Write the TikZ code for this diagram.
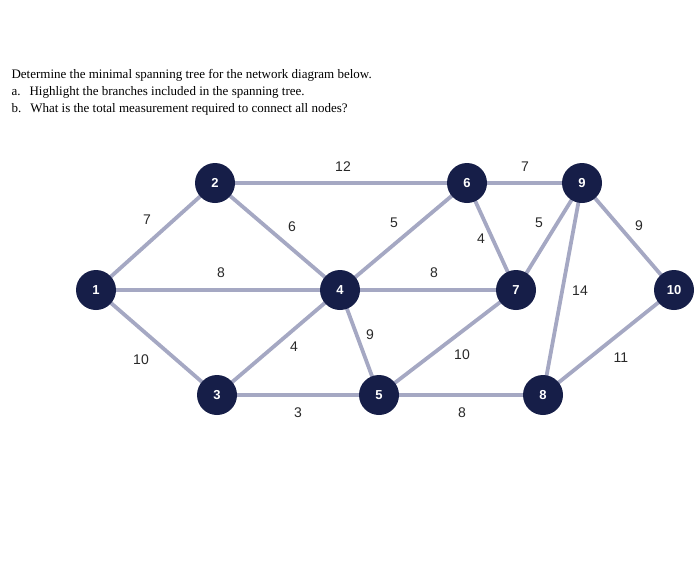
\documentclass[tikz,border=0pt]{standalone}
\usepackage{fontspec}
\setmainfont{Liberation Serif}
\newfontfamily\lab{Liberation Sans}
\begin{document}
\begin{tikzpicture}[x=1pt,y=-1pt,
  nd/.style={circle,fill={rgb,255:red,22;green,30;blue,72},minimum size=40pt,inner sep=0pt,text=white,font=\lab\bfseries\fontsize{13}{13}\selectfont},
  ed/.style={draw={rgb,255:red,165;green,168;blue,195},line width=3.8pt},
  wl/.style={font=\lab\fontsize{14}{14}\selectfont,text={rgb,255:red,40;green,40;blue,40}},
  hd/.style={anchor=west,font=\fontsize{13}{15}\selectfont}]
\useasboundingbox (0,0) rectangle (700,565);
\node[hd] (t1) at (8,75) {Determine the minimal spanning tree for the network diagram below.};
\node[hd] (t2) at (8,92) {a.\hspace{9pt}Highlight the branches included in the spanning tree.};
\node[hd] (t3) at (8,109) {b.\hspace{9pt}What is the total measurement required to connect all nodes?};
\coordinate (p1) at (96,290); \coordinate (p2) at (215,183); \coordinate (p3) at (217,395);
\coordinate (p4) at (340,290); \coordinate (p5) at (379,395); \coordinate (p6) at (467,183);
\coordinate (p7) at (516,290); \coordinate (p8) at (543,395); \coordinate (p9) at (582,183);
\coordinate (p10) at (674,290);
\foreach \a/\b in {p1/p2,p1/p4,p1/p3,p2/p6,p2/p4,p3/p4,p3/p5,p4/p5,p4/p6,p4/p7,p6/p7,p6/p9,p7/p9,p7/p5,p5/p8,p9/p8,p9/p10,p8/p10}
  \draw[ed] (\a) -- (\b);
\node[nd] (n1) at (p1) {1};
\node[nd] (n2) at (p2) {2};
\node[nd] (n3) at (p3) {3};
\node[nd] (n4) at (p4) {4};
\node[nd] (n5) at (p5) {5};
\node[nd] (n6) at (p6) {6};
\node[nd] (n7) at (p7) {7};
\node[nd] (n8) at (p8) {8};
\node[nd] (n9) at (p9) {9};
\node[nd] (n10) at (p10) {10};
\node[wl] (w1) at (147,220) {7};
\node[wl] (w2) at (292,227) {6};
\node[wl] (w3) at (343,167) {12};
\node[wl] (w4) at (394,223) {5};
\node[wl] (w5) at (481,239) {4};
\node[wl] (w6) at (525,167) {7};
\node[wl] (w7) at (539,223) {5};
\node[wl] (w8) at (639,226) {9};
\node[wl] (w9) at (221,273) {8};
\node[wl] (w10) at (434,273) {8};
\node[wl] (w11) at (580,291) {14};
\node[wl] (w12) at (370,335) {9};
\node[wl] (w13) at (294,347) {4};
\node[wl] (w14) at (141,360) {10};
\node[wl] (w15) at (462,355) {10};
\node[wl] (w16) at (621,358) {11};
\node[wl] (w17) at (298,413) {3};
\node[wl] (w18) at (462,413) {8};
\end{tikzpicture}
\end{document}
